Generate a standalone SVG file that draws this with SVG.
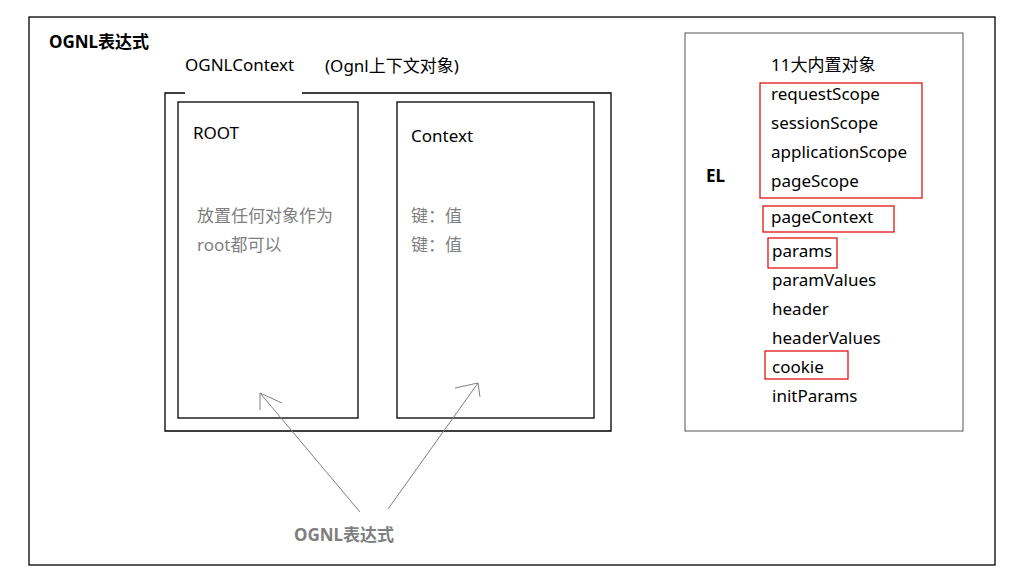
<svg xmlns="http://www.w3.org/2000/svg" width="1015" height="587" viewBox="0 0 1015 587">
<style>
text{font-family:"Noto Sans","Noto Sans CJK SC",sans-serif;font-size:17px;fill:#000}
.b{font-weight:bold}
.g{fill:#7f7f7f}
.box{fill:none;stroke:#000;stroke-width:1.3}
.red{fill:none;stroke:#e00000;stroke-width:1.2}
.arr{fill:none;stroke:#808080;stroke-width:1}
</style>
<rect width="1015" height="587" fill="#fff"/>
<g id="outer"><rect class="box" x="29" y="17" width="966" height="548"/><text class="b" x="49" y="48">OGNL表达式</text></g>
<g id="ognlcontext">
<path class="box" d="M185,93 H165 V431 H611 V93 H302"/>
<text x="185" y="71">OGNLContext</text><text x="325" y="72">(Ognl上下文对象)</text>
</g>
<g id="root"><rect class="box" x="178" y="102" width="180" height="316"/><text x="193" y="139">ROOT</text><text class="g" x="197" y="222">放置任何对象作为</text><text class="g" x="197" y="251">root都可以</text></g>
<g id="context"><rect class="box" x="397" y="102" width="197" height="316"/><text x="411" y="142">Context</text><text class="g" x="411" y="222">键：值</text><text class="g" x="411" y="251">键：值</text></g>
<g id="el"><rect x="685" y="33" width="278" height="398" fill="none" stroke="#555" stroke-width="1"/>
<text class="b" x="706" y="182">EL</text>
<text x="771" y="71">11大内置对象</text>
<text x="771" y="100">requestScope</text><text x="771" y="129">sessionScope</text><text x="771" y="158">applicationScope</text><text x="771" y="187">pageScope</text>
<text x="771" y="223">pageContext</text><text x="772" y="257">params</text><text x="772" y="286">paramValues</text><text x="772" y="315">header</text><text x="772" y="344">headerValues</text><text x="772" y="373">cookie</text><text x="772" y="402">initParams</text>
<rect class="red" x="760" y="83" width="162" height="115"/><rect class="red" x="763" y="206" width="131" height="26"/><rect class="red" x="768" y="238" width="69" height="30"/><rect class="red" x="765" y="351" width="83" height="28"/>
</g>
<g id="connectors">
<path class="arr" d="M360,512 L260,393 M282,403 L260,393 L260,410"/>
<path class="arr" d="M388,509 L478,383 M455,388 L478,383 L480,397"/>
</g>
<g id="label"><text class="b g" x="294" y="541">OGNL表达式</text></g>
</svg>
